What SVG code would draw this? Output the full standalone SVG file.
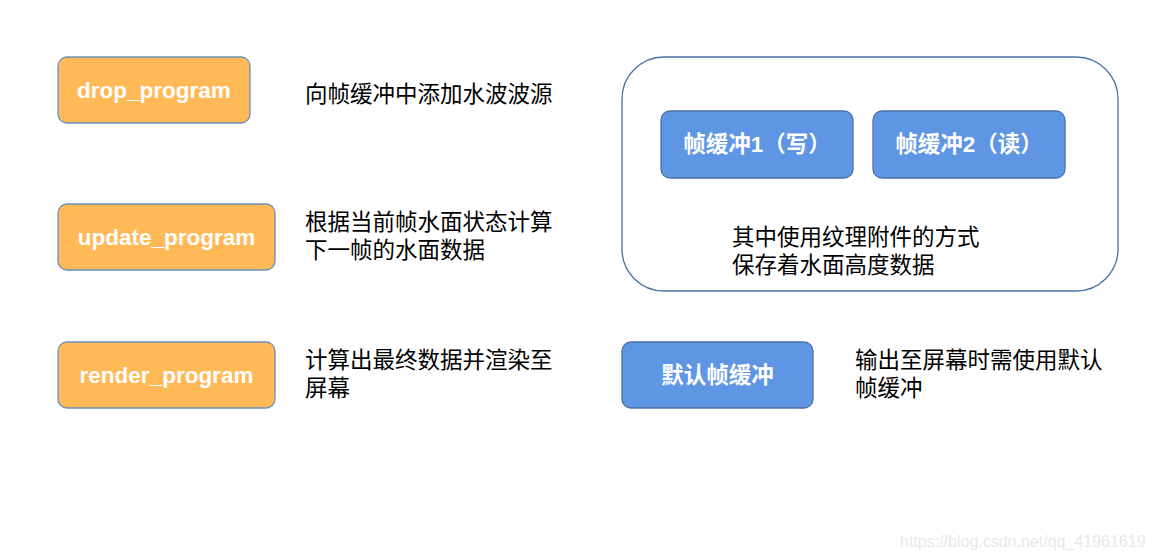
<svg xmlns="http://www.w3.org/2000/svg" width="1154" height="559" viewBox="0 0 1154 559">
<style>
.prog{fill:#FFB957;stroke:#6C8EBF;stroke-width:1.3}
.fb{fill:#5F96E3;stroke:#4A70A8;stroke-width:1.3}
.lbl{font-family:"Liberation Sans","Noto Sans CJK SC",sans-serif;font-size:22.5px;font-weight:bold;fill:#fff;text-anchor:middle;dominant-baseline:central}
.desc{font-family:"Liberation Sans","Noto Sans CJK SC",sans-serif;font-size:22.5px;fill:#000}
</style>
<rect width="1154" height="559" fill="#fff"/>
<g id="drop_program"><rect class="prog" x="58" y="57" width="192" height="66" rx="9"/><text class="lbl" x="154" y="90">drop_program</text></g>
<g id="update_program"><rect class="prog" x="58" y="204" width="217" height="66" rx="9"/><text class="lbl" x="166.5" y="237">update_program</text></g>
<g id="render_program"><rect class="prog" x="58" y="342" width="217" height="66" rx="9"/><text class="lbl" x="166.5" y="375">render_program</text></g>
<g id="desc_drop"><text class="desc" x="305" y="102">向帧缓冲中添加水波波源</text></g>
<g id="desc_update"><text class="desc" x="305" y="230">根据当前帧水面状态计算</text><text class="desc" x="305" y="258">下一帧的水面数据</text></g>
<g id="desc_render"><text class="desc" x="305" y="368">计算出最终数据并渲染至</text><text class="desc" x="305" y="396">屏幕</text></g>
<g id="container"><rect x="622" y="57" width="496" height="234" rx="42" fill="#fff" stroke="#4A70A8" stroke-width="1.3"/><text class="desc" x="732" y="245">其中使用纹理附件的方式</text><text class="desc" x="732" y="273">保存着水面高度数据</text></g>
<g id="fb1"><rect class="fb" x="661" y="111" width="192" height="67" rx="9"/><text class="lbl" x="757" y="144.5">帧缓冲1（写）</text></g>
<g id="fb2"><rect class="fb" x="873" y="111" width="192" height="67" rx="9"/><text class="lbl" x="969" y="144.5">帧缓冲2（读）</text></g>
<g id="fb_default"><rect class="fb" x="622" y="342" width="191" height="66" rx="9"/><text class="lbl" x="717.5" y="375">默认帧缓冲</text></g>
<g id="desc_default"><text class="desc" x="855" y="368">输出至屏幕时需使用默认</text><text class="desc" x="855" y="396">帧缓冲</text></g>
<g id="connectors"/>
<text x="900" y="547" font-family="Liberation Sans, sans-serif" font-size="16" fill="#e8e8e8">https://blog.csdn.net/qq_41961619</text>
</svg>
